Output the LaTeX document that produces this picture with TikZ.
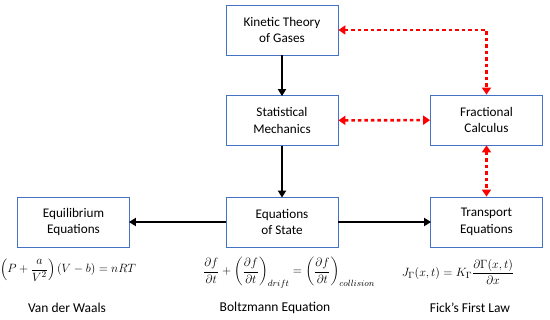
\documentclass[tikz,border=0pt]{standalone}
\usepackage{amsmath}
\usepackage{fontspec}
\setmainfont{Carlito}
\usepackage{tikz}
\usetikzlibrary{arrows.meta,calc,positioning}
\definecolor{BoxBlue}{HTML}{4472C4}
\definecolor{LinkRed}{HTML}{FF0000}

\begin{document}
\begin{tikzpicture}[x=1pt,y=-1pt,
    box/.style={draw=BoxBlue,line width=.8pt,minimum width=112pt,minimum height=50pt,align=center,font=\fontsize{13.2}{16.5}\selectfont},
    flow/.style={-{Triangle[length=7pt,width=8pt]},line width=2.4pt,shorten >=-1pt},
    link/.style={{Triangle[length=7pt,width=9pt]}-{Triangle[length=7pt,width=9pt]},LinkRed,line width=2.6pt,dash pattern=on 3.5pt off 3pt},
    eqn/.style={font=\fontsize{12.3}{14}\selectfont},
    caption/.style={font=\fontsize{13.5}{16}\selectfont}]
  \useasboundingbox (0,0) rectangle (550,320);
  % boxes
  \node[box] (kinetic) at (282,30) {Kinetic Theory\\of Gases};
  \node[box] (statmech) at (282,120.5) {Statistical\\Mechanics};
  \node[box] (fraccalc) at (486.5,120) {Fractional\\Calculus};
  \node[box] (eqstate) at (282,222) {Equations\\of State};
  \node[box] (equilib) at (73.5,222) {Equilibrium\\Equations};
  \node[box] (transport) at (486.5,222) {Transport\\Equations};
  % black arrows
  \draw[flow] (kinetic) -- (statmech);
  \draw[flow] (statmech) -- (eqstate);
  \draw[flow] (eqstate) -- (equilib);
  \draw[flow] (eqstate) -- (transport);
  % red links
  \draw[link] (kinetic.east) -| (fraccalc.north);
  \draw[link] (statmech) -- (fraccalc);
  \draw[link] (fraccalc) -- (transport);
  % equations
  \node[eqn] (vdw) at (68,270) {$\displaystyle\left(P+\frac{a}{V^2}\right)(V-b)=nRT$};
  \node[eqn] (boltz) at (289,273) {$\displaystyle\frac{\partial f}{\partial t}+\left(\frac{\partial f}{\partial t}\right)_{drift}=\left(\frac{\partial f}{\partial t}\right)_{collision}$};
  \node[eqn] (fick) at (458,272) {$\displaystyle J_{\Gamma}(x,t)=K_{\Gamma}\frac{\partial\Gamma(x,t)}{\partial x}$};
  \node[caption] (vdwlabel) at (67,308) {Van der Waals};
  \node[caption] (boltzlabel) at (275,308) {Boltzmann Equation};
  \node[caption] (ficklabel) at (470,308) {Fick’s First Law};
\end{tikzpicture}
\end{document}
